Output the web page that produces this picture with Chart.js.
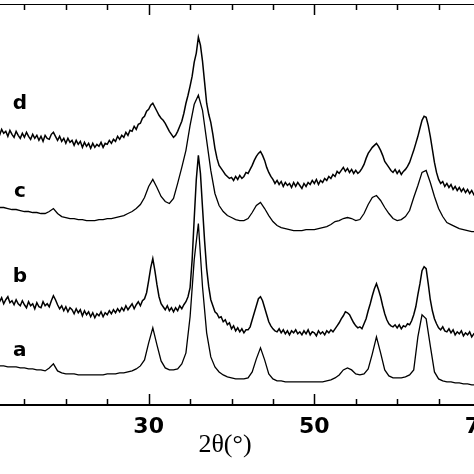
<!DOCTYPE html>
<html>
<head>
<meta charset="utf-8">
<script src="https://cdn.jsdelivr.net/npm/chart.js@4.4.0/dist/chart.umd.min.js"></script>
<style>
  html, body { margin: 0; padding: 0; background: #fff; overflow: hidden; }
  /* chart area runs from 10° to 70°, the left and right edges fall outside the window */
  #wrap { position: absolute; left: -28px; top: 0; width: 550px; height: 474px; }
</style>
</head>
<body>
<div id="wrap"><canvas id="xrdChart"></canvas></div>
<script>
// 2θ positions (degrees) for the smooth curves a and c
const twoTheta = [
  10, 10.5, 11, 11.5, 12, 12.5, 13, 13.5, 14, 14.5,
  15, 15.5, 16, 16.5, 17, 17.5, 18, 18.5, 19, 19.5,
  20, 20.5, 21, 21.5, 22, 22.5, 23, 23.5, 24, 24.5,
  25, 25.5, 26, 26.5, 27, 27.5, 28, 28.5, 29, 29.5,
  30, 30.5, 31, 31.5, 32, 32.5, 33, 33.5, 34, 34.5,
  35, 35.5, 36, 36.5, 37, 37.5, 38, 38.5, 39, 39.5,
  40, 40.5, 41, 41.5, 42, 42.5, 43, 43.5, 44, 44.5,
  45, 45.5, 46, 46.5, 47, 47.5, 48, 48.5, 49, 49.5,
  50, 50.5, 51, 51.5, 52, 52.5, 53, 53.5, 54, 54.5,
  55, 55.5, 56, 56.5, 57, 57.5, 58, 58.5, 59, 59.5,
  60, 60.5, 61, 61.5, 62, 62.5, 63, 63.5, 64, 64.5,
  65, 65.5, 66, 66.5, 67, 67.5, 68, 68.5, 69, 69.5, 70
];

// finer 2θ positions for the noisy curves b and d
const twoThetaFine = [
  10, 10.25, 10.5, 10.75, 11, 11.25, 11.5, 11.75, 12, 12.25, 12.5, 12.75,
  13, 13.25, 13.5, 13.75, 14, 14.25, 14.5, 14.75, 15, 15.25, 15.5, 15.75,
  16, 16.25, 16.5, 16.75, 17, 17.25, 17.5, 17.75, 18, 18.25, 18.5, 18.75,
  19, 19.25, 19.5, 19.75, 20, 20.25, 20.5, 20.75, 21, 21.25, 21.5, 21.75,
  22, 22.25, 22.5, 22.75, 23, 23.25, 23.5, 23.75, 24, 24.25, 24.5, 24.75,
  25, 25.25, 25.5, 25.75, 26, 26.25, 26.5, 26.75, 27, 27.25, 27.5, 27.75,
  28, 28.25, 28.5, 28.75, 29, 29.25, 29.5, 29.75, 30, 30.25, 30.5, 30.75,
  31, 31.25, 31.5, 31.75, 32, 32.25, 32.5, 32.75, 33, 33.25, 33.5, 33.75,
  34, 34.25, 34.5, 34.75, 35, 35.25, 35.5, 35.75, 36, 36.25, 36.5, 36.75,
  37, 37.25, 37.5, 37.75, 38, 38.25, 38.5, 38.75, 39, 39.25, 39.5, 39.75,
  40, 40.25, 40.5, 40.75, 41, 41.25, 41.5, 41.75, 42, 42.25, 42.5, 42.75,
  43, 43.25, 43.5, 43.75, 44, 44.25, 44.5, 44.75, 45, 45.25, 45.5, 45.75,
  46, 46.25, 46.5, 46.75, 47, 47.25, 47.5, 47.75, 48, 48.25, 48.5, 48.75,
  49, 49.25, 49.5, 49.75, 50, 50.25, 50.5, 50.75, 51, 51.25, 51.5, 51.75,
  52, 52.25, 52.5, 52.75, 53, 53.25, 53.5, 53.75, 54, 54.25, 54.5, 54.75,
  55, 55.25, 55.5, 55.75, 56, 56.25, 56.5, 56.75, 57, 57.25, 57.5, 57.75,
  58, 58.25, 58.5, 58.75, 59, 59.25, 59.5, 59.75, 60, 60.25, 60.5, 60.75,
  61, 61.25, 61.5, 61.75, 62, 62.25, 62.5, 62.75, 63, 63.25, 63.5, 63.75,
  64, 64.25, 64.5, 64.75, 65, 65.25, 65.5, 65.75, 66, 66.25, 66.5, 66.75,
  67, 67.25, 67.5, 67.75, 68, 68.25, 68.5, 68.75, 69, 69.25, 69.5, 69.75,
  70
];

// intensities (a.u., curves already stacked)
const seriesA = [
  40, 40, 39, 40, 39, 39, 38, 38, 38, 37,
  37, 36, 36, 35, 35, 34, 37, 41, 34, 32,
  31, 31, 31, 30, 30, 30, 30, 30, 30, 30,
  31, 31, 31, 32, 32, 33, 34, 36, 39, 45,
  62, 77, 60, 44, 37, 35, 35, 36, 41, 52,
  88, 145, 181, 118, 72, 48, 38, 33, 30, 28,
  27, 26, 26, 26, 27, 33, 46, 57, 45, 31,
  26, 24, 24, 23, 23, 23, 23, 23, 23, 23,
  23, 23, 23, 24, 25, 27, 30, 35, 37, 35,
  31, 30, 31, 36, 51, 68, 52, 35, 29, 27,
  27, 27, 28, 30, 35, 68, 90, 86, 59, 33,
  26, 24, 23, 23, 22, 22, 21, 21, 20, 20, 20
];
const seriesB = [
  109, 104, 107, 103, 108, 102, 106, 109, 103, 107, 101, 105,
  108, 102, 104, 100, 105, 101, 99, 104, 100, 97, 103, 99,
  101, 96, 102, 98, 97, 103, 99, 101, 98, 104, 109, 105,
  100, 96, 99, 94, 98, 93, 97, 95, 91, 96, 92, 95,
  89, 94, 90, 93, 88, 92, 87, 91, 89, 93, 88, 92,
  90, 94, 91, 95, 92, 96, 93, 97, 94, 99, 95, 98,
  101, 96, 100, 103, 99, 104, 106, 112, 124, 137, 146, 134,
  120, 108, 101, 98, 95, 99, 94, 97, 93, 97, 94, 99,
  96, 100, 103, 108, 117, 145, 186, 225, 249, 231, 197, 164,
  136, 118, 105, 99, 93, 91, 87, 88, 83, 85, 80, 82,
  76, 79, 74, 77, 73, 76, 72, 75, 75, 78, 85, 92,
  99, 106, 108, 104, 97, 90, 83, 79, 76, 74, 73, 76,
  72, 75, 71, 74, 70, 74, 72, 75, 71, 73, 70, 74,
  71, 75, 70, 73, 72, 69, 74, 71, 73, 70, 74, 72,
  75, 73, 76, 79, 82, 86, 89, 93, 92, 90, 86, 82,
  79, 77, 78, 76, 81, 86, 94, 101, 109, 116, 121, 115,
  108, 99, 91, 85, 81, 79, 78, 80, 77, 80, 76, 79,
  78, 81, 80, 84, 90, 98, 110, 121, 134, 138, 136, 121,
  105, 94, 86, 81, 77, 75, 78, 74, 73, 76, 72, 75,
  70, 73, 71, 74, 69, 72, 70, 73, 68, 71, 69, 70,
  68
];
const seriesC = [
  199, 199, 198, 198, 197, 197, 196, 195, 195, 194,
  193, 193, 192, 192, 191, 191, 193, 196, 191, 188,
  187, 186, 186, 185, 185, 184, 184, 184, 185, 185,
  186, 186, 187, 188, 189, 191, 193, 196, 200, 207,
  218, 225, 217, 208, 203, 201, 206, 221, 237, 254,
  279, 300, 309, 294, 264, 234, 211, 199, 193, 189,
  187, 185, 184, 184, 186, 192, 199, 202, 196, 189,
  183, 179, 177, 176, 175, 174, 174, 174, 175, 175,
  175, 176, 177, 178, 180, 183, 184, 186, 187, 186,
  184, 185, 191, 200, 207, 209, 204, 197, 191, 186,
  184, 185, 188, 194, 207, 219, 232, 234, 222, 208,
  196, 188, 182, 180, 178, 176, 175, 174, 173, 173, 172
];
const seriesD = [
  277, 272, 275, 271, 276, 270, 274, 272, 269, 275, 271, 273,
  268, 274, 270, 267, 273, 269, 266, 271, 267, 272, 268, 265,
  270, 266, 269, 264, 268, 263, 269, 266, 265, 270, 272, 268,
  264, 268, 263, 266, 261, 266, 262, 264, 259, 264, 260, 263,
  257, 262, 258, 261, 256, 261, 257, 260, 258, 262, 257, 261,
  260, 264, 261, 265, 263, 268, 265, 269, 267, 272, 269, 274,
  273, 278, 275, 280, 281, 286, 288, 293, 295, 299, 301, 297,
  293, 289, 286, 284, 281, 277, 273, 270, 267, 269, 273, 278,
  283, 291, 301, 309, 318, 328, 342, 351, 367, 359, 343, 322,
  301, 290, 282, 270, 256, 246, 239, 236, 233, 230, 228, 226,
  227, 224, 228, 225, 229, 226, 228, 232, 231, 235, 239, 244,
  248, 251, 253, 249, 244, 237, 232, 228, 225, 221, 224, 220,
  223, 218, 222, 219, 221, 217, 222, 218, 222, 219, 216, 221,
  218, 222, 220, 224, 221, 225, 220, 224, 222, 226, 224, 228,
  226, 230, 228, 233, 231, 234, 237, 233, 236, 232, 235, 231,
  234, 231, 233, 236, 240, 246, 251, 254, 257, 259, 261, 258,
  254, 249, 243, 240, 237, 234, 232, 235, 231, 234, 230, 233,
  235, 238, 242, 248, 254, 261, 268, 276, 284, 288, 287, 279,
  268, 255, 242, 232, 225, 221, 223, 218, 221, 217, 220, 215,
  218, 214, 217, 213, 216, 212, 215, 211, 214, 210, 213, 209,
  211
];

const curveNames = ['a', 'b', 'c', 'd'];
const tickValues = [10, 15, 20, 25, 30, 35, 40, 45, 50, 55, 60, 65, 70];
const majorTicks = [10, 30, 50, 70];

function toPoints(xs, values) {
  return xs.map((t, i) => ({ x: t, y: values[i] }));
}

// Rahmen oben + nach innen zeigende Ticks oben und unten
const frameTicks = {
  id: 'frameTicks',
  afterDraw(chart) {
    const ctx = chart.ctx;
    const { top, bottom } = chart.chartArea;
    const x = chart.scales.x;
    ctx.save();
    ctx.strokeStyle = '#000';
    ctx.lineWidth = 1.2;
    ctx.beginPath();
    ctx.moveTo(x.left, top + 0.5);
    ctx.lineTo(x.right, top + 0.5);
    ctx.stroke();
    ctx.lineWidth = 1.5;
    ctx.beginPath();
    tickValues.forEach(v => {
      const px = Math.round(x.getPixelForValue(v)) + 0.5;
      const len = majorTicks.includes(v) ? 11 : 6;
      ctx.moveTo(px, bottom);
      ctx.lineTo(px, bottom - len);
      ctx.moveTo(px, top);
      ctx.lineTo(px, top + len);
    });
    ctx.stroke();
    ctx.restore();
  }
};

// Kurvenbeschriftung a-d
const curveLabels = {
  id: 'curveLabels',
  afterDatasetsDraw(chart, args, opts) {
    const ctx = chart.ctx;
    const { x, y } = chart.scales;
    ctx.save();
    ctx.fillStyle = '#000';
    ctx.font = 'bold 20px "DejaVu Sans"';
    ctx.textAlign = 'center';
    ctx.textBaseline = 'middle';
    curveNames.forEach((name, i) => {
      ctx.fillText(name, x.getPixelForValue(opts.at), y.getPixelForValue(opts.levels[i]));
    });
    ctx.restore();
  }
};

const ctx = document.getElementById('xrdChart').getContext('2d');
new Chart(ctx, {
  type: 'line',
  data: {
    datasets: [
      { label: 'a', data: toPoints(twoTheta, seriesA), borderWidth: 1.3 },
      { label: 'b', data: toPoints(twoThetaFine, seriesB), borderWidth: 1.5 },
      { label: 'c', data: toPoints(twoTheta, seriesC), borderWidth: 1.3 },
      { label: 'd', data: toPoints(twoThetaFine, seriesD), borderWidth: 1.5 }
    ].map(ds => Object.assign(ds, {
      borderColor: '#000',
      pointRadius: 0,
      fill: false,
      tension: 0
    }))
  },
  options: {
    responsive: true,
    maintainAspectRatio: false,
    animation: false,
    layout: { padding: { left: 0, right: 42, top: 4, bottom: 16 } },
    scales: {
      x: {
        type: 'linear',
        position: 'bottom',
        min: 10,
        max: 70,
        grid: { display: false, drawTicks: false },
        border: { display: true, color: '#000', width: 2 },
        ticks: {
          stepSize: 20,
          autoSkip: false,
          maxRotation: 0,
          padding: 11,
          color: '#000',
          font: { family: '"DejaVu Sans"', size: 22, weight: 'bold', lineHeight: 1 },
          callback: v => (v === 10 ? '' : v)
        },
        title: {
          display: true,
          text: '2θ(°)  ',
          color: '#000',
          padding: { top: -17, bottom: 0 },
          font: { family: '"Liberation Serif"', size: 26, weight: 'normal', lineHeight: 1 }
        }
      },
      y: {
        display: false,
        min: 0,
        max: 400
      }
    },
    plugins: {
      legend: { display: false },
      tooltip: { enabled: false },
      curveLabels: { at: 14.45, levels: [54, 128, 213, 300] }
    }
  },
  plugins: [frameTicks, curveLabels]
});
</script>
</body>
</html>
